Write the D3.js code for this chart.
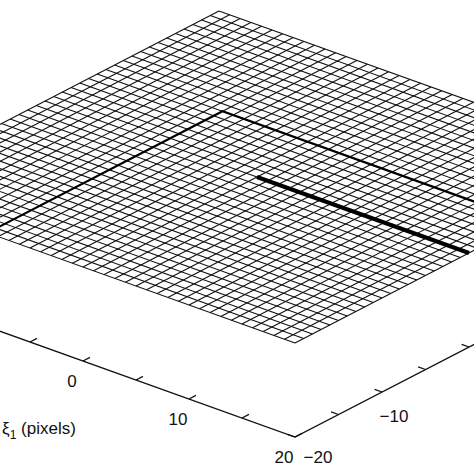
<!DOCTYPE html>
<html>
<head>
<meta charset="UTF-8">
<style>
body { margin: 0; padding: 0; background: white; }
text { font-family: "Liberation Sans", Arial, sans-serif; font-size: 17px; fill: #111; }
</style>
</head>
<body>
<svg></svg>
<script src="https://d3js.org/d3.v7.min.js"></script>
<script>
// grid and marks (data coordinates, pixels)
const gridSteps = d3.range(-20, 21, 1);
const xi1Ticks = [-20, -15, -10, -5, 0, 5, 10, 15, 20];
const xi2Ticks = [-20, -15, -10, -5, 0, 5, 10, 15, 20];
const xi1Labels = [0, 10, 20];
const xi2Labels = [-20, -10];
const thinPath = [[-9, -20], [-9, 7], [20, 7]];
const thickPath = [[0, 0], [20, 0]];

const width = 474, height = 474;
const svg = d3.select("svg").attr("width", width).attr("height", height);

// oblique projection: each axis contributes a screen offset
const px1 = d3.scaleLinear().domain([-20, 20]).range([-424, 0]);
const py1 = d3.scaleLinear().domain([-20, 20]).range([-152, 0]);
const px2 = d3.scaleLinear().domain([-20, 20]).range([0, 348]);
const py2 = d3.scaleLinear().domain([-20, 20]).range([0, -180]);
const origin = [295, 437], planeLift = -94;

const proj = (a, b, z) => [origin[0] + px1(a) + px2(b), origin[1] + py1(a) + py2(b) + z];
const line = d3.line();

// mesh
const mesh = svg.append("g").attr("fill", "none").attr("stroke", "#111").attr("stroke-width", 1.1);
gridSteps.forEach(v => {
  mesh.append("path").attr("d", line([proj(v, -20, planeLift), proj(v, 20, planeLift)]));
  mesh.append("path").attr("d", line([proj(-20, v, planeLift), proj(20, v, planeLift)]));
});

svg.append("path").attr("d", line(thinPath.map(p => proj(p[0], p[1], planeLift))))
  .attr("fill", "none").attr("stroke", "#000").attr("stroke-width", 2.2);
svg.append("path").attr("d", line(thickPath.map(p => proj(p[0], p[1], planeLift))))
  .attr("fill", "none").attr("stroke", "#000").attr("stroke-width", 4);

// axes
const ax = svg.append("g").attr("stroke", "#111").attr("stroke-width", 1.3).attr("fill", "none");
ax.append("path").attr("d", line([proj(-20, -20, 0), proj(20, -20, 0), proj(20, 20, 0)]));
xi1Ticks.forEach(t => ax.append("path").attr("d", line([proj(t, -20, 0), proj(t, -19.2, 0)])));
xi2Ticks.forEach(t => ax.append("path").attr("d", line([proj(20, t, 0), proj(19.3, t, 0)])));

xi1Labels.forEach(t => {
  const p = proj(t, -20, 0);
  svg.append("text").attr("x", p[0] - 11).attr("y", p[1] + 26).attr("text-anchor", "middle").text(t < 0 ? "\u2212" + (-t) : t);
});
xi2Labels.forEach(t => {
  const p = proj(20, t, 0);
  svg.append("text").attr("x", p[0] + (t === -20 ? 23 : 12)).attr("y", p[1] + (t === -20 ? 26 : 30)).attr("text-anchor", "middle").text(t < 0 ? "\u2212" + (-t) : t);
});

const lab = svg.append("text").attr("x", 2).attr("y", 434).attr("font-size", 18);
lab.append("tspan").text("\u03be");
lab.append("tspan").attr("font-size", 12).attr("dy", 5).text("1");
lab.append("tspan").attr("dy", -5).text(" (pixels)");
</script>
</body>
</html>
